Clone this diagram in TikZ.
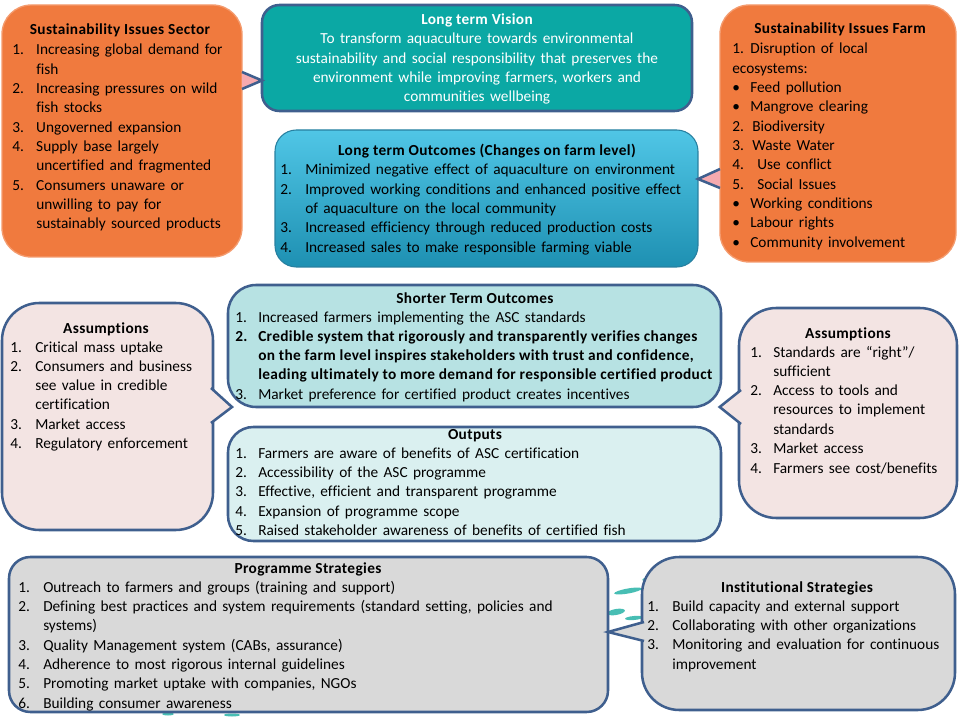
\documentclass[tikz,border=0pt]{standalone}
\usepackage{fontspec}
\setmainfont{Carlito}[Ligatures=NoCommon, WordSpace=1.55, BoldFeatures={LetterSpace=2.3, WordSpace=1}]
\usetikzlibrary{fit,calc}

\definecolor{frameblue}{RGB}{63,95,142}
\definecolor{issueorange}{RGB}{240,122,62}
\definecolor{visionteal}{RGB}{11,168,164}
\definecolor{outtop}{RGB}{80,198,230}
\definecolor{outbot}{RGB}{30,144,178}
\definecolor{shortfill}{RGB}{183,226,227}
\definecolor{outputfill}{RGB}{218,240,240}
\definecolor{assumfill}{RGB}{243,228,227}
\definecolor{stratgrey}{RGB}{217,217,217}
\definecolor{wedgepink}{RGB}{246,170,175}
\definecolor{streakteal}{RGB}{72,190,180}

\newcommand{\basefont}{\fontsize{11.5}{14.5}\selectfont}
\newcommand{\nb}[2][18.75pt]{\makebox[#1][l]{#2}}
\newcommand{\bl}{\makebox[13.5pt][l]{•}}
\newcommand{\llines}[1]{\begin{tabular}[t]{@{}l@{}}#1\end{tabular}}
\newcommand{\clines}[1]{\begin{tabular}[t]{@{}c@{}}#1\end{tabular}}

\tikzset{
  box/.style={draw=frameblue, line width=1.9pt, inner sep=0pt, outer sep=0pt},
  issuebox/.style={box, draw=issueorange!75!white, line width=1pt, fill=issueorange, rounded corners=22pt},
  ttl/.style={font=\basefont\bfseries, anchor=base, inner sep=0pt},
  lst/.style={font=\basefont, anchor=base west, inner sep=0pt},
  wedge/.style={draw=frameblue, line width=1.9pt, line join=miter},
  streak/.style={fill=streakteal},
}

\begin{document}
\begin{tikzpicture}[x=0.75pt,y=0.75pt,yscale=-1,xscale=1]
\useasboundingbox (0,0) rectangle (960,720);

%Teal streaks behind the strategies
\fill[streak, rotate around={-10:(628,591)}] (628,591) ellipse (14 and 2.5);
\fill[streak, rotate around={-10:(616,612)}] (616,612) ellipse (9 and 3);
\fill[streak, rotate around={-5:(634,618)}] (634,618) ellipse (9 and 2);
\fill[streak, rotate around={-15:(650,578)}] (650,578) ellipse (8 and 2);
\fill[streak] (168,714) ellipse (6 and 1.5);
\fill[streak] (232,715) ellipse (8 and 1.5);

%Rounded Rects
\node[issuebox, fit={(2,5) (242,257)}] (sector) {};
\node[box, fill=visionteal, rounded corners=13pt, fit={(262,5) (692,111)}] (vision) {};
\node[issuebox, fit={(720,5) (956,262)}] (farm) {};
\node[box, draw={rgb,255:red,40;green,128;blue,160}, line width=0.8pt, top color=outtop, bottom color=outbot, rounded corners=16pt, fit={(275,130) (698,267)}] (ltout) {};
\node[box, fill=assumfill, rounded corners=28pt, fit={(2,303) (213,530)}] (assumL) {};
\node[box, fill=shortfill, rounded corners=21pt, fit={(228,285) (721,407)}] (short) {};
\node[box, fill=outputfill, rounded corners=19pt, fit={(228,427) (721,541)}] (outputs) {};
\node[box, fill=assumfill, rounded corners=28pt, fit={(739,308) (957,518)}] (assumR) {};
\node[box, fill=stratgrey, rounded corners=16pt, fit={(9,557) (608,712)}] (prog) {};
\node[box, fill=stratgrey, rounded corners=28pt, fit={(642,557) (955,710)}] (inst) {};

%Callout wedges
\filldraw[wedge, fill=wedgepink] (sector.east |- 0,72) -- (vision.west |- 0,80.5) -- (sector.east |- 0,89);
\filldraw[wedge, fill=wedgepink] (farm.west |- 0,169) -- (ltout.east |- 0,179) -- (farm.west |- 0,188);
\filldraw[wedge, fill=assumfill] ($(assumL.east |- 0,388)+(-2,0)$) -- ([xshift=3pt]short.south west) -- ($(assumL.east |- 0,423)+(-2,0)$);
\filldraw[wedge, fill=assumfill] ($(assumR.west |- 0,390)+(2,0)$) -- ([xshift=-1pt]short.south east) -- ($(assumR.west |- 0,424)+(2,0)$);
\filldraw[wedge, fill=stratgrey] ($(inst.west |- 0,622)+(2,0)$) -- (prog.east |- 0,632) -- ($(inst.west |- 0,641)+(2,0)$);

%Sustainability Issues Sector
\node[ttl] (sectorT) at (120,35) {Sustainability Issues Sector};
\node[lst] (sectorL) at (12,55) {\llines{\nb[18pt]{1.}Increasing global demand for\\
\nb[18pt]{}fish\\
\nb[18pt]{2.}Increasing pressures on wild\\
\nb[18pt]{}fish stocks\\
\nb[18pt]{3.}Ungoverned expansion\\
\nb[18pt]{4.}Supply base largely\\
\nb[18pt]{}uncertified and fragmented\\
\nb[18pt]{5.}Consumers unaware or\\
\nb[18pt]{}unwilling to pay for\\
\nb[18pt]{}sustainably sourced products}};

%Long term Vision
\node[ttl, text=white] (visionT) at (477,25) {Long term Vision};
\node[font=\basefont, anchor=base, inner sep=0pt, text=white] (visionL) at (477,44) {\clines{To transform aquaculture towards environmental\\
sustainability and social responsibility that preserves the\\
environment while improving farmers, workers and\\
communities wellbeing}};

%Sustainability Issues Farm
\node[ttl] (farmT) at (840,34) {Sustainability Issues Farm};
\node[lst] (farmL) at (732,54) {\llines{1. Disruption of local\\
ecosystems:\\
\bl Feed pollution\\
\bl Mangrove clearing\\
\nb[15pt]{2.}Biodiversity\\
\nb[15pt]{3.}Waste Water\\
\nb{4.}Use conflict\\
\nb{5.}Social Issues\\
\bl Working conditions\\
\bl Labour rights\\
\bl Community involvement}};

%Long term Outcomes
\node[ttl] (ltoutT) at (487,156) {Long term Outcomes (Changes on farm level)};
\node[lst] (ltoutL) at (280,175) {\llines{\nb{1.}Minimized negative effect of aquaculture on environment\\
\nb{2.}Improved working conditions and enhanced positive effect\\
\nb{}of aquaculture on the local community\\
\nb{3.}Increased efficiency through reduced production costs\\
\nb{4.}Increased sales to make responsible farming viable}};

%Assumptions left
\node[ttl] (assumLT) at (106,333) {Assumptions};
\node[lst] (assumLL) at (10,352) {\llines{\nb{1.}Critical mass uptake\\
\nb{2.}Consumers and business\\
\nb{}see value in credible\\
\nb{}certification\\
\nb{3.}Market access\\
\nb{4.}Regulatory enforcement}};

%Shorter Term Outcomes
\node[ttl] (shortT) at (475,303) {Shorter Term Outcomes};
\node[lst] (shortL) at (235,322) {\llines{\nb[17.25pt]{1.}Increased farmers implementing the ASC standards\\
\textbf{\nb[17.25pt]{2.}Credible system that rigorously and transparently verifies changes}\\
\textbf{\nb[17.25pt]{}on the farm level inspires stakeholders with trust and confidence,}\\
\textbf{\nb[17.25pt]{}leading ultimately to more demand for responsible certified product}\\
\nb[17.25pt]{3.}Market preference for certified product creates incentives}};

%Outputs
\node[ttl] (outputsT) at (475,439) {Outputs};
\node[lst] (outputsL) at (235,458) {\llines{\nb[17.25pt]{1.}Farmers are aware of benefits of ASC certification\\
\nb[17.25pt]{2.}Accessibility of the ASC programme\\
\nb[17.25pt]{3.}Effective, efficient and transparent programme\\
\nb[17.25pt]{4.}Expansion of programme scope\\
\nb[17.25pt]{5.}Raised stakeholder awareness of benefits of certified fish}};

%Assumptions right
\node[ttl] (assumRT) at (848,338) {Assumptions};
\node[lst] (assumRL) at (750,357) {\llines{\nb[17.25pt]{1.}Standards are “right”/\\
\nb[17.25pt]{}sufficient\\
\nb[17.25pt]{2.}Access to tools and\\
\nb[17.25pt]{}resources to implement\\
\nb[17.25pt]{}standards\\
\nb[17.25pt]{3.}Market access\\
\nb[17.25pt]{4.}Farmers see cost/benefits}};

%Programme Strategies
\node[ttl] (progT) at (308,573) {Programme Strategies};
\node[lst] (progL) at (18,592) {\llines{\nb{1.}Outreach to farmers and groups (training and support)\\
\nb{2.}Defining best practices and system requirements (standard setting, policies and\\
\nb{}systems)\\
\nb{3.}Quality Management system (CABs, assurance)\\
\nb{4.}Adherence to most rigorous internal guidelines\\
\nb{5.}Promoting market uptake with companies, NGOs\\
\nb{6.}Building consumer awareness}};

%Institutional Strategies
\node[ttl] (instT) at (797,592) {Institutional Strategies};
\node[lst] (instL) at (647,611) {\llines{\nb{1.}Build capacity and external support\\
\nb{2.}Collaborating with other organizations\\
\nb{3.}Monitoring and evaluation for continuous\\
\nb{}improvement}};

\end{tikzpicture}
\end{document}
